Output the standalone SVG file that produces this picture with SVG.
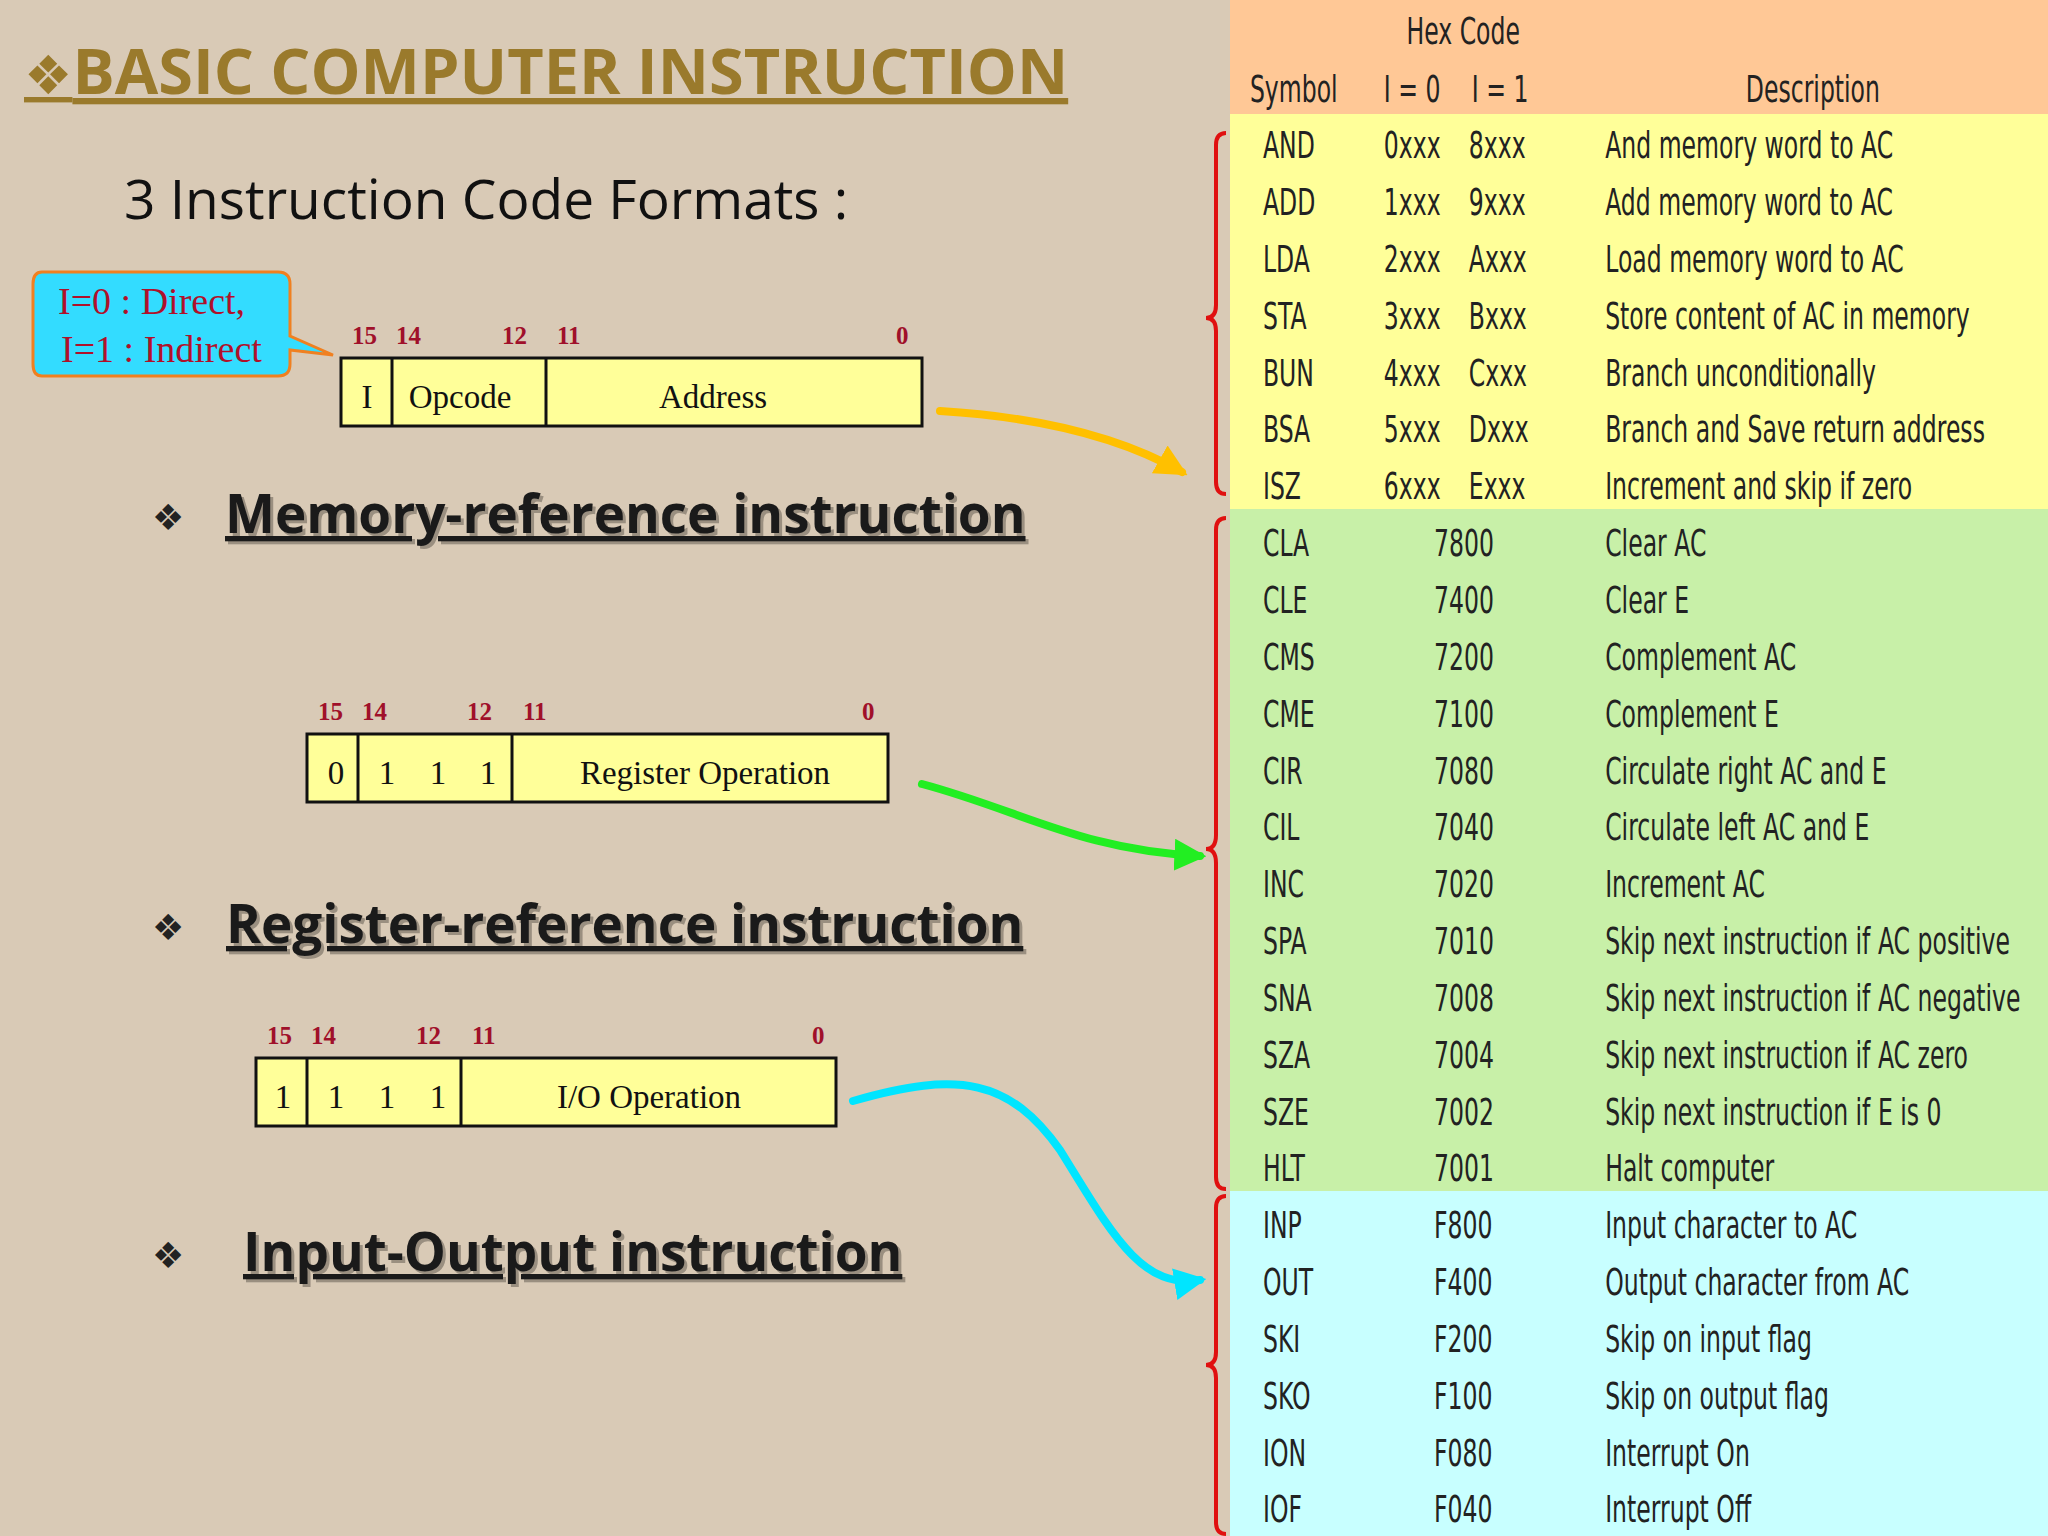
<svg xmlns="http://www.w3.org/2000/svg" width="2048" height="1536" viewBox="0 0 2048 1536">
<style>
.t{font-family:"DejaVu Sans",sans-serif;font-size:38px;fill:#222}
.c{text-anchor:middle}
.bit{font-family:"Liberation Serif",serif;font-weight:bold;font-size:25px;fill:#a0102a}
.cell{font-family:"Liberation Serif",serif;font-size:33px;fill:#111}
.box{fill:#ffff99;stroke:#111;stroke-width:3}
.hd{font-family:"Open Sans","Noto Sans",sans-serif;font-weight:bold;font-size:53px;fill:#1a1a1a;text-decoration:underline}
.sh{fill:#9a8f80}
.bul{font-family:"DejaVu Sans",sans-serif;font-size:36px;fill:#222}
.br{fill:none;stroke:#e01010;stroke-width:4}
</style>
<defs>
<marker id="ay" viewBox="0 0 10 10" refX="8" refY="5" markerWidth="4" markerHeight="4" orient="auto"><path d="M0,0L10,5L0,10z" fill="#ffc000"/></marker>
<marker id="ag" viewBox="0 0 10 10" refX="8" refY="5" markerWidth="4" markerHeight="4" orient="auto"><path d="M0,0L10,5L0,10z" fill="#22ee22"/></marker>
<marker id="ac" viewBox="0 0 10 10" refX="8" refY="5" markerWidth="4" markerHeight="4" orient="auto"><path d="M0,0L10,5L0,10z" fill="#00e5ff"/></marker>
</defs>
<rect width="2048" height="1536" fill="#d9cab6"/>
<g id="title">
<text x="24" y="94" font-family="Open Sans,Noto Sans,sans-serif" font-weight="bold" font-size="63" fill="#9a7a2c" text-decoration="underline"><tspan font-family="DejaVu Sans" font-size="54">❖</tspan>BASIC COMPUTER INSTRUCTION</text>
<text x="124" y="219" font-family="Open Sans,Noto Sans,sans-serif" font-size="55" fill="#111">3 Instruction Code Formats :</text>
</g>
<g id="callout">
<path d="M42,272H278Q290,272 290,284V336L333,355L290,350V364Q290,376 278,376H42Q33,376 33,364V284Q33,272 42,272Z" fill="#33dcff" stroke="#f08020" stroke-width="3"/>
<text x="58" y="314" font-family="Liberation Serif,serif" font-size="38" fill="#b0102a">I=0 : Direct,</text>
<text x="61" y="362" font-family="Liberation Serif,serif" font-size="38" fill="#b0102a">I=1 : Indirect</text>
</g>
<g id="fmt1">
<text class="bit" x="352" y="344">15</text><text class="bit" x="396" y="344">14</text><text class="bit" x="502" y="344">12</text><text class="bit" x="557" y="344">11</text><text class="bit" x="896" y="344">0</text>
<rect class="box" x="341" y="358" width="581" height="68"/>
<line x1="392" y1="358" x2="392" y2="426" stroke="#111" stroke-width="3"/><line x1="546" y1="358" x2="546" y2="426" stroke="#111" stroke-width="3"/>
<text class="cell c" x="367" y="408">I</text><text class="cell c" x="460" y="408">Opcode</text><text class="cell c" x="713" y="408">Address</text>
</g>
<g id="mem">
<text class="bul" x="152" y="530">❖</text>
<text class="hd sh" x="228" y="536">Memory-reference instruction</text>
<text class="hd" x="225" y="533">Memory-reference instruction</text>
</g>
<g id="fmt2">
<text class="bit" x="318" y="720">15</text><text class="bit" x="362" y="720">14</text><text class="bit" x="467" y="720">12</text><text class="bit" x="523" y="720">11</text><text class="bit" x="862" y="720">0</text>
<rect class="box" x="307" y="734" width="581" height="68"/>
<line x1="358" y1="734" x2="358" y2="802" stroke="#111" stroke-width="3"/><line x1="512" y1="734" x2="512" y2="802" stroke="#111" stroke-width="3"/>
<text class="cell c" x="336" y="784">0</text><text class="cell c" x="387" y="784">1</text><text class="cell c" x="438" y="784">1</text><text class="cell c" x="488" y="784">1</text><text class="cell c" x="705" y="784">Register Operation</text>
</g>
<g id="reg">
<text class="bul" x="152" y="940">❖</text>
<text class="hd sh" x="229" y="946">Register-reference instruction</text>
<text class="hd" x="226" y="943">Register-reference instruction</text>
</g>
<g id="fmt3">
<text class="bit" x="267" y="1044">15</text><text class="bit" x="311" y="1044">14</text><text class="bit" x="416" y="1044">12</text><text class="bit" x="472" y="1044">11</text><text class="bit" x="812" y="1044">0</text>
<rect class="box" x="256" y="1058" width="580" height="68"/>
<line x1="307" y1="1058" x2="307" y2="1126" stroke="#111" stroke-width="3"/><line x1="461" y1="1058" x2="461" y2="1126" stroke="#111" stroke-width="3"/>
<text class="cell c" x="283" y="1108">1</text><text class="cell c" x="336" y="1108">1</text><text class="cell c" x="387" y="1108">1</text><text class="cell c" x="438" y="1108">1</text><text class="cell c" x="649" y="1108">I/O  Operation</text>
</g>
<g id="io">
<text class="bul" x="152" y="1268">❖</text>
<text class="hd sh" x="246" y="1274">Input-Output instruction</text>
<text class="hd" x="243" y="1271">Input-Output instruction</text>
</g>
<g id="table">
<rect x="1230" y="0" width="818" height="114" fill="#ffc896"/>
<rect x="1230" y="114" width="818" height="395" fill="#ffff99"/>
<rect x="1230" y="509" width="818" height="682" fill="#c8f0a8"/>
<rect x="1230" y="1191" width="818" height="345" fill="#c8ffff"/>
<g transform="scale(0.62,1)">
<g class="t">
<text class="c" x="2360" y="44">Hex Code</text>
<text x="2016" y="102">Symbol</text><text x="2232" y="102">I = 0</text><text x="2374" y="102">I = 1</text><text class="c" x="2924" y="102">Description</text>
</g>
<g class="t">
<text x="2037" y="158">AND</text><text x="2232" y="158">0xxx</text><text x="2369" y="158">8xxx</text><text x="2589" y="158">And memory word to AC</text>
<text x="2037" y="215">ADD</text><text x="2232" y="215">1xxx</text><text x="2369" y="215">9xxx</text><text x="2589" y="215">Add memory word to AC</text>
<text x="2037" y="272">LDA</text><text x="2232" y="272">2xxx</text><text x="2369" y="272">Axxx</text><text x="2589" y="272">Load memory word to AC</text>
<text x="2037" y="329">STA</text><text x="2232" y="329">3xxx</text><text x="2369" y="329">Bxxx</text><text x="2589" y="329">Store content of AC in memory</text>
<text x="2037" y="386">BUN</text><text x="2232" y="386">4xxx</text><text x="2369" y="386">Cxxx</text><text x="2589" y="386">Branch unconditionally</text>
<text x="2037" y="442">BSA</text><text x="2232" y="442">5xxx</text><text x="2369" y="442">Dxxx</text><text x="2589" y="442">Branch and Save return address</text>
<text x="2037" y="499">ISZ</text><text x="2232" y="499">6xxx</text><text x="2369" y="499">Exxx</text><text x="2589" y="499">Increment and skip if zero</text>
</g>
<g class="t">
<text x="2037" y="556">CLA</text><text x="2313" y="556">7800</text><text x="2589" y="556">Clear AC</text>
<text x="2037" y="613">CLE</text><text x="2313" y="613">7400</text><text x="2589" y="613">Clear E</text>
<text x="2037" y="670">CMS</text><text x="2313" y="670">7200</text><text x="2589" y="670">Complement AC</text>
<text x="2037" y="727">CME</text><text x="2313" y="727">7100</text><text x="2589" y="727">Complement E</text>
<text x="2037" y="784">CIR</text><text x="2313" y="784">7080</text><text x="2589" y="784">Circulate right AC and E</text>
<text x="2037" y="840">CIL</text><text x="2313" y="840">7040</text><text x="2589" y="840">Circulate left AC and E</text>
<text x="2037" y="897">INC</text><text x="2313" y="897">7020</text><text x="2589" y="897">Increment AC</text>
<text x="2037" y="954">SPA</text><text x="2313" y="954">7010</text><text x="2589" y="954">Skip next instruction if AC positive</text>
<text x="2037" y="1011">SNA</text><text x="2313" y="1011">7008</text><text x="2589" y="1011">Skip next instruction if AC negative</text>
<text x="2037" y="1068">SZA</text><text x="2313" y="1068">7004</text><text x="2589" y="1068">Skip next instruction if AC zero</text>
<text x="2037" y="1125">SZE</text><text x="2313" y="1125">7002</text><text x="2589" y="1125">Skip next instruction if E is 0</text>
<text x="2037" y="1181">HLT</text><text x="2313" y="1181">7001</text><text x="2589" y="1181">Halt computer</text>
</g>
<g class="t">
<text x="2037" y="1238">INP</text><text x="2313" y="1238">F800</text><text x="2589" y="1238">Input character to AC</text>
<text x="2037" y="1295">OUT</text><text x="2313" y="1295">F400</text><text x="2589" y="1295">Output character from AC</text>
<text x="2037" y="1352">SKI</text><text x="2313" y="1352">F200</text><text x="2589" y="1352">Skip on input flag</text>
<text x="2037" y="1409">SKO</text><text x="2313" y="1409">F100</text><text x="2589" y="1409">Skip on output flag</text>
<text x="2037" y="1466">ION</text><text x="2313" y="1466">F080</text><text x="2589" y="1466">Interrupt On</text>
<text x="2037" y="1522">IOF</text><text x="2313" y="1522">F040</text><text x="2589" y="1522">Interrupt Off</text>
</g>
</g>
</g>
<g id="braces">
<path class="br" d="M1226,133Q1216,133 1216,145V305Q1216,318 1206,318Q1216,318 1216,331V482Q1216,494 1226,494"/>
<path class="br" d="M1226,518Q1216,518 1216,530V835Q1216,849 1206,849Q1216,849 1216,863V1177Q1216,1189 1226,1189"/>
<path class="br" d="M1226,1196Q1216,1196 1216,1208V1352Q1216,1365 1206,1365Q1216,1365 1216,1378V1522Q1216,1534 1226,1534"/>
</g>
<g id="connectors" fill="none" stroke-width="8" stroke-linecap="round">
<path d="M940,411Q1090,420 1182,472" stroke="#ffc000" marker-end="url(#ay)"/>
<path d="M922,784C1020,810 1080,850 1200,856" stroke="#22ee22" marker-end="url(#ag)"/>
<path d="M853,1101C960,1070 1010,1080 1060,1150C1110,1230 1140,1290 1200,1280" stroke="#00e5ff" marker-end="url(#ac)"/>
</g>
</svg>
